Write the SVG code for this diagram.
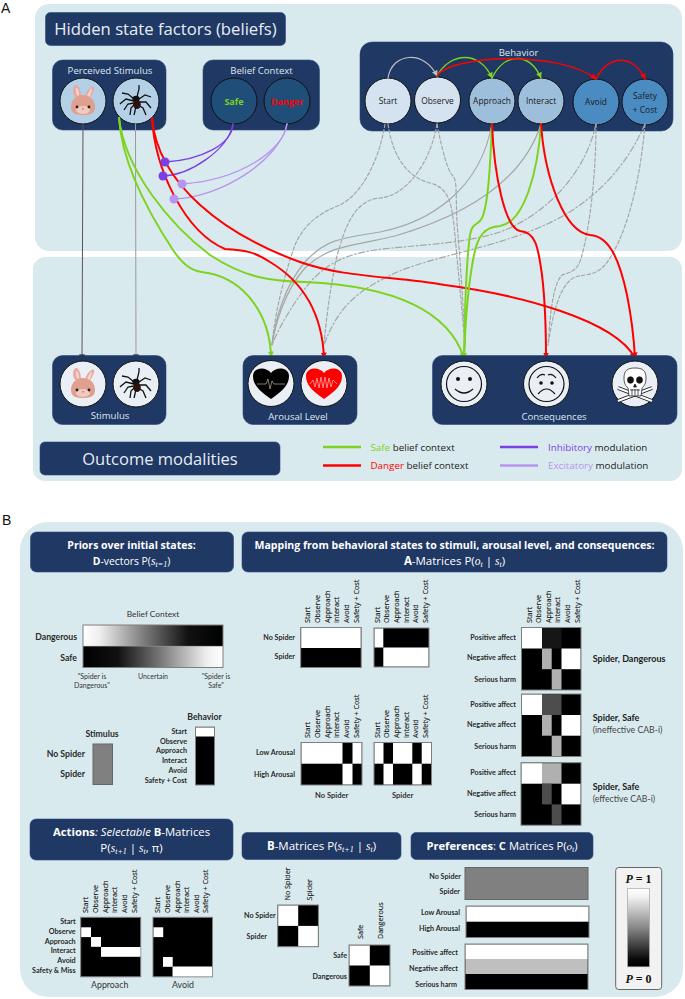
<svg xmlns="http://www.w3.org/2000/svg" width="685" height="999" viewBox="0 0 685 999">
<style>
text{font-family:"Open Sans","Liberation Sans",sans-serif;fill:#222}
.panel{fill:#d9eaee}
.dark{fill:#1f3864;stroke:#2d4a7c;stroke-width:.6}
.t{fill:#e8edf4}
.cap{fill:#dfe6ef;font-size:9.600px;text-anchor:middle}
.ncirc{stroke:#111;stroke-width:1}
.bt{font-size:8.400px;text-anchor:middle;fill:#1a1a1a}
.lab{font-family:Lato,"Liberation Sans",sans-serif;font-size:7.200px;font-weight:700;fill:#2a2a2a;text-anchor:end}
.lab8{font-family:Lato,"Liberation Sans",sans-serif;font-size:8.700px;font-weight:700;fill:#2a2a2a;text-anchor:end}
.col{font-family:Lato,"Liberation Sans",sans-serif;font-size:7.200px;font-weight:400;fill:#1a1a1a;stroke:#1a1a1a;stroke-width:.12}
.lab2{font-family:Lato,"Liberation Sans",sans-serif;font-size:7.600px;fill:#333;text-anchor:middle}
.lat{font-family:Lato,"Liberation Sans",sans-serif;font-size:9px;font-weight:700}
.lat2{font-family:Lato,"Liberation Sans",sans-serif;font-size:8.700px;fill:#444}
.leg{font-size:9.800px}
.head{fill:#fff;font-size:11.500px;text-anchor:middle}
.b{font-weight:700}
.m{font-style:italic;font-family:"Liberation Serif",serif}
.sub{font-size:8px;font-style:italic;font-family:"Liberation Serif",serif}
.k{fill:#000;stroke:#7f7f7f;stroke-width:1}
.w{fill:#fff}
.g1{fill:#b0b0b0}.g2{fill:#4d4d4d}.g3{fill:#161616}
.c{fill:none;stroke-linecap:round}
.gs{stroke:#a6a6a6;stroke-width:1.200}
.gd{stroke:#a6a6a6;stroke-width:1.200;stroke-dasharray:3.500 2.200}
.gdd{stroke:#a6a6a6;stroke-width:1.200;stroke-dasharray:6 2.500 1.500 2.500}
.gr{stroke:#7ed321;stroke-width:2}
.rd{stroke:#ff0000;stroke-width:2}
.pu{stroke:#7b3fe4;stroke-width:1.300}
.lp{stroke:#b794f0;stroke-width:1.300}
</style>
<defs>
<marker id="ag" markerUnits="userSpaceOnUse" markerWidth="7" markerHeight="7" refX="5.500" refY="3" orient="auto"><path d="M0 0L6 3L0 6z" fill="#7ed321"/></marker>
<marker id="ar" markerUnits="userSpaceOnUse" markerWidth="7" markerHeight="7" refX="5.500" refY="3" orient="auto"><path d="M0 0L6 3L0 6z" fill="#ff0000"/></marker>
<marker id="ak" markerUnits="userSpaceOnUse" markerWidth="7" markerHeight="7" refX="5.500" refY="3" orient="auto"><path d="M0 0L6 3L0 6z" fill="#111"/></marker>
<marker id="aw" markerUnits="userSpaceOnUse" markerWidth="7" markerHeight="7" refX="5.500" refY="3" orient="auto"><path d="M0 0L6 3L0 6z" fill="#bfbfbf"/></marker>
<linearGradient id="wb"><stop offset="0" stop-color="#fff"/><stop offset=".12" stop-color="#eee"/><stop offset=".45" stop-color="#777"/><stop offset=".75" stop-color="#111"/><stop offset="1" stop-color="#000"/></linearGradient>
<linearGradient id="bw"><stop offset="0" stop-color="#000"/><stop offset=".25" stop-color="#111"/><stop offset=".55" stop-color="#777"/><stop offset=".88" stop-color="#eee"/><stop offset="1" stop-color="#fff"/></linearGradient>
<linearGradient id="vb" x1="0" y1="0" x2="0" y2="1"><stop offset="0" stop-color="#fff"/><stop offset=".1" stop-color="#f4f4f4"/><stop offset=".5" stop-color="#888"/><stop offset=".9" stop-color="#0a0a0a"/><stop offset="1" stop-color="#000"/></linearGradient>
<symbol id="rabbit" viewBox="-23 -23 46 46" overflow="visible">
<path d="M-8 -4C-12 -10 -9 -17 -6 -16C-3 -14 -2 -8 -2 -5z" fill="#e8a9a0"/>
<path d="M2 -5C4 -11 9 -16 11 -14C12 -11 8 -5 6 -2z" fill="#e8a9a0"/>
<path d="M-6 -6C-8 -11 -7 -14 -6 -13C-4 -11 -4 -8 -4 -5z" fill="#f6d5d0"/>
<path d="M4 -5C6 -9 8 -13 9 -12C9 -10 7 -5 6 -3z" fill="#f6d5d0"/>
<path d="M-12 6C-12 -2 -6 -6 0 -6C6 -6 12 -2 12 6C12 12 8 14 0 14C-8 14 -12 12 -12 6z" fill="#dfa090"/>
<ellipse cx="0" cy="9" rx="7" ry="4" fill="#f2c9bf"/>
<circle cx="-6" cy="6" r="1.400" fill="#222"/><circle cx="6" cy="6" r="1.400" fill="#222"/>
<path d="M-1 7.500h2l-1 1.200z" fill="#a33"/>
</symbol>
<symbol id="spider" viewBox="-23 -23 46 46" overflow="visible">
<g fill="none" stroke="#111" stroke-width="1.300">
<path d="M-2 -2L-8 -7L-14 -8"/><path d="M-2 0L-10 -2L-15 2L-16 3"/><path d="M-2 2L-8 3L-12 9"/><path d="M-1 3L-5 7L-6 14"/>
<path d="M1 -4L3 -12L3 -16"/><path d="M3 -2L9 -6L15 -4"/><path d="M3 1L10 1L15 7"/><path d="M2 4L7 7L10 14"/><path d="M0 4L-1 10L-2 14"/>
</g>
<ellipse cx="0" cy="-2" rx="3.600" ry="3.200" fill="#111"/><ellipse cx="1" cy="3.500" rx="3.800" ry="4.600" fill="#2a1210"/>
</symbol>
</defs>

<text x="1" y="13" style="font-size:14px;fill:#111;font-family:'Liberation Sans',sans-serif">A</text>
<text x="2" y="525" style="font-size:14px;fill:#111;font-family:'Liberation Sans',sans-serif">B</text>

<rect class="panel" x="35" y="4" width="647" height="247" rx="14"/>
<rect class="panel" x="33" y="257" width="649" height="224" rx="12"/>

<g id="title-hidden"><rect class="dark" x="45.500" y="12.500" width="240" height="33" rx="5"/><text class="t" x="165.500" y="35" text-anchor="middle" style="font-size:16.700px">Hidden state factors (beliefs)</text></g>

<g id="perceived-stimulus">
<rect class="dark" x="52.500" y="60" width="113.500" height="70" rx="10"/>
<text class="cap" x="110" y="74">Perceived Stimulus</text>
<circle class="ncirc" cx="83" cy="101" r="23" fill="#b4d0e7"/><use href="#rabbit" x="60" y="78" width="46" height="46"/>
<circle class="ncirc" cx="136" cy="101" r="23" fill="#b4d0e7"/><use href="#spider" x="113" y="78" width="46" height="46"/>
</g>
<g id="belief-context">
<rect class="dark" x="203" y="60" width="116.500" height="70" rx="10"/>
<text class="cap" x="261.500" y="74">Belief Context</text>
<circle class="ncirc" cx="234" cy="101" r="23" fill="#1f4e79"/><text x="234" y="105" text-anchor="middle" style="fill:#7ed321;font-size:9px;font-weight:700">Safe</text>
<circle class="ncirc" cx="287" cy="101" r="23" fill="#1f4e79"/><text x="287" y="105" text-anchor="middle" style="fill:#ff0000;font-size:9px;font-weight:700">Danger</text>
</g>
<g id="behavior">
<rect class="dark" x="360" y="42" width="313" height="89" rx="12"/>
<text class="cap" x="518.500" y="56">Behavior</text>
<g class="ncirc">
<circle cx="388" cy="101" r="23" fill="#d5e3f1"/><circle cx="437.500" cy="100" r="23" fill="#d5e3f1"/>
<circle cx="492" cy="101" r="23" fill="#9dbfdc"/><circle cx="541" cy="101" r="23" fill="#9dbfdc"/>
<circle cx="596" cy="102" r="23" fill="#4a8bc2"/><circle cx="645" cy="102" r="23" fill="#4a8bc2"/>
</g>
<text class="bt" x="388" y="104">Start</text><text class="bt" x="437.500" y="104">Observe</text><text class="bt" x="492" y="104">Approach</text><text class="bt" x="541" y="104">Interact</text><text class="bt" x="596" y="105">Avoid</text><text class="bt" x="645" y="99">Safety</text><text class="bt" x="645" y="113">+ Cost</text>
</g>

<g id="connectors">
<g class="c">
<path class="gd" d="M385 124C380 155 365 192 340 205C322 212 305 222 295 245C286 270 275 310 272 345"/>
<path class="gd" d="M388 124C393 160 410 178 430 183C450 188 452 205 455 235C458 270 463 320 465 345"/>
<path class="gd" d="M437 124C430 165 405 196 380 198C355 200 345 225 336 260C330 290 326 320 324 345"/>
<path class="gd" d="M437 124C442 150 448 172 453 176C458 180 455 205 458 235C461 270 464 320 465 345"/>
<path class="gs" d="M492 124C480 190 430 222 380 232C340 238 325 240 305 262C285 285 275 320 272 345"/>
<path class="gs" d="M541 124C520 190 450 220 395 236C355 246 330 244 305 268C285 290 275 325 272 345"/>
<path class="gdd" d="M596 124C585 175 545 215 500 232C460 245 410 245 375 250C345 255 330 262 312 280C295 300 280 325 272 345"/>
<path class="gd" d="M596 124C596 175 590 225 582 255C578 272 570 272 562 275C552 285 550 320 548 345"/>
<path class="gdd" d="M645 124C625 170 590 205 545 225C490 250 420 258 385 278C350 295 335 315 324 345"/>
<path class="gd" d="M645 124C640 185 625 240 605 265C595 276 585 274 575 277C558 285 552 320 548 345"/>
</g>
<g class="c">
<path d="M83 124L82 360" stroke="#555" stroke-width="1" marker-end="url(#ak)"/>
<path d="M135.500 124L136 360" stroke="#999" stroke-width="1" marker-end="url(#ak)"/>
<path class="pu" d="M233 124C232 145 200 160 165 162"/>
<path class="pu" d="M233 124C228 150 190 175 163 176"/>
<path class="lp" d="M287 124C284 150 240 180 182 184"/>
<path class="lp" d="M287 124C280 160 220 198 174 199"/>
<path class="gr" d="M119 118C122 165 150 215 173 250C185 268 195 272 208 273C245 280 270 315 271 357" marker-end="url(#ag)"/>
<path class="gr" d="M119 118C125 170 170 225 210 255C245 278 270 281 305 282C370 285 445 300 464 358" marker-end="url(#ag)"/>
<path class="rd" d="M152 118C155 170 185 232 225 249C245 250 255 252 270 262C300 280 322 310 324 358" marker-end="url(#ar)"/>
<path class="rd" d="M152 118C158 185 225 235 300 262C345 278 395 276 445 285C520 295 615 320 635 358" marker-end="url(#ar)"/>
<path class="gr" d="M492 124C490 170 488 205 482 218C478 226 472 222 470 235C465 270 465 320 464 358" marker-end="url(#ag)"/>
<path class="gr" d="M541 124C538 170 525 222 500 226C485 227 478 235 474 255C468 285 465 330 464 358" marker-end="url(#ag)"/>
<path class="rd" d="M492 124C494 175 505 228 520 231C535 232 538 245 542 275C545 300 546 330 546 358" marker-end="url(#ar)"/>
<path class="rd" d="M541 124C545 180 565 232 590 235C610 236 620 262 627 295C632 320 634 340 635 358" marker-end="url(#ar)"/>
<path d="M388 78C392 52 425 50 437 76" stroke="#bfbfbf" stroke-width="1.200" marker-end="url(#aw)"/>
<path class="gr" style="stroke-width:1.300" d="M437 76C450 52 480 50 492 78" marker-end="url(#ag)"/>
<path class="gr" style="stroke-width:1.300" d="M492 78C505 52 530 52 541 78" marker-end="url(#ag)"/>
<path class="rd" style="stroke-width:1.400" d="M437 76C450 55 560 50 596 79" marker-end="url(#ar)"/>
<path class="rd" style="stroke-width:1.400" d="M596 79C608 54 634 54 645 79" marker-end="url(#ar)"/>
</g>
<circle cx="165" cy="162" r="4.500" fill="#7b3fe4"/><circle cx="163" cy="176" r="4.500" fill="#7b3fe4"/>
<circle cx="182" cy="184" r="4.500" fill="#b794f0"/><circle cx="174" cy="199" r="4.500" fill="#b794f0"/>
</g>

<g id="stimulus-outcomes">
<rect class="dark" x="52.500" y="355.500" width="113.500" height="69" rx="10"/>
<circle class="ncirc" cx="83" cy="384" r="23" fill="#e9eff5"/><use href="#rabbit" x="60" y="361" width="46" height="46"/>
<circle class="ncirc" cx="136" cy="384" r="23" fill="#e9eff5"/><use href="#spider" x="113" y="361" width="46" height="46"/>
<text class="cap" x="110" y="419">Stimulus</text>
</g>
<g id="arousal-level">
<rect class="dark" x="243" y="355.500" width="114" height="69" rx="10"/>
<circle class="ncirc" cx="271" cy="383.500" r="23" fill="#e9eff5"/>
<path d="M271 399C258 390 253 384 253 376C253 367 266 366 271 373C276 366 289 367 289 376C289 384 284 390 271 399z" fill="#000"/>
<path d="M257 384H266L268 379L270 389L272 381L274 384H285" fill="none" stroke="#ccc" stroke-width=".6"/>
<circle class="ncirc" cx="324" cy="383.500" r="23" fill="#e9eff5"/>
<path d="M324 399C311 390 306 384 306 376C306 367 319 366 324 373C329 366 342 367 342 376C342 384 337 390 324 399z" fill="#ff0000"/>
<path d="M310 384L313 380L315 387L317 378L319 388L321 377L323 388L325 377L327 388L329 378L331 387L333 380L337 384" fill="none" stroke="#fdd" stroke-width=".6"/>
<text class="cap" x="298" y="420">Arousal Level</text>
</g>
<g id="consequences">
<rect class="dark" x="432.500" y="355.500" width="244.500" height="69" rx="10"/>
<circle class="ncirc" cx="464" cy="384" r="23" fill="#e9eff5"/>
<g fill="none" stroke="#111" stroke-width="1.200"><circle cx="464" cy="384" r="17.500"/><path d="M455 389Q464 397 473 389"/></g>
<circle cx="458" cy="379" r="2" fill="#111"/><circle cx="470" cy="379" r="2" fill="#111"/>
<circle class="ncirc" cx="546.500" cy="384" r="23" fill="#e9eff5"/>
<g fill="none" stroke="#111" stroke-width="1.200"><circle cx="546.500" cy="384" r="17.500"/><path d="M538 394Q546.500 384 555 394"/><path d="M537 378Q541 373 545 375M548 375Q552 373 556 378"/></g>
<circle cx="541" cy="383" r="1.800" fill="#111"/><circle cx="552" cy="383" r="1.800" fill="#111"/>
<circle class="ncirc" cx="635" cy="384" r="23" fill="#e9eff5"/>
<g stroke="#111" stroke-width=".7">
<path d="M618 388L652 401M652 388L618 401" stroke="#111" stroke-width="3.600"/><path d="M618 388L652 401M652 388L618 401" stroke="#fff" stroke-width="2.400"/>
<path d="M624 378C624 370 628 368 635 368C642 368 646 370 646 378C646 384 644 386 642 388L641 396H629L628 388C626 386 624 384 624 378z" fill="#fff"/>
<ellipse cx="630.500" cy="380" rx="3" ry="3.300" fill="#111"/><ellipse cx="639.500" cy="380" rx="3" ry="3.300" fill="#111"/>
<path d="M635 384l-1.500 3h3z" fill="#111"/><path d="M630 390H640M632 389V396M635 389V396M638 389V396"/>
</g>
<text class="cap" x="554" y="420">Consequences</text>
</g>

<g id="title-outcome"><rect class="dark" x="40" y="442" width="240" height="33" rx="5"/><text class="t" x="160" y="465" text-anchor="middle" style="font-size:16.500px">Outcome modalities</text></g>

<g id="legend">
<path d="M323 447H361" stroke="#7ed321" stroke-width="2.400"/><path d="M323 465.500H361" stroke="#ff0000" stroke-width="2.400"/>
<path d="M500 447H538" stroke="#7b3fe4" stroke-width="2.400"/><path d="M500 465.500H538" stroke="#b794f0" stroke-width="2.400"/>
<text class="leg" x="370.500" y="450.500"><tspan style="fill:#7ed321">Safe</tspan> belief context</text>
<text class="leg" x="370.500" y="469"><tspan style="fill:#ff0000">Danger</tspan> belief context</text>
<text class="leg" x="548" y="450.500"><tspan style="fill:#7b3fe4">Inhibitory</tspan> modulation</text>
<text class="leg" x="548" y="469"><tspan style="fill:#b794f0">Excitatory</tspan> modulation</text>
</g>

<rect class="panel" x="20" y="522" width="663" height="475" rx="28"/>

<g id="head-priors"><rect class="dark" x="30.500" y="532" width="203" height="40" rx="6"/>
<text class="head b" x="131.500" y="549" style="font-size:10.500px">Priors over initial states:</text>
<text class="head" x="131.500" y="565" style="font-size:10.400px"><tspan class="b">D</tspan>-vectors P(<tspan class="m" style="font-size:12px">s</tspan><tspan class="sub" dy="2">t=1</tspan><tspan dy="-2">)</tspan></text></g>
<g id="head-mapping"><rect class="dark" x="242" y="532" width="425" height="40" rx="6"/>
<text class="head b" x="454.500" y="549" style="font-size:10.550px">Mapping from behavioral states to stimuli, arousal level, and consequences:</text>
<text class="head" x="454.500" y="565"><tspan class="b">A</tspan>-Matrices P(<tspan class="m">o</tspan><tspan class="sub" dy="2">t</tspan><tspan dy="-2"> | </tspan><tspan class="m">s</tspan><tspan class="sub" dy="2">t</tspan><tspan dy="-2">)</tspan></text></g>
<g id="head-actions"><rect class="dark" x="30" y="819" width="203" height="41" rx="6"/>
<text class="head" x="131.500" y="836" style="font-size:11.300px"><tspan class="b">Actions</tspan><tspan font-style="italic">: Selectable </tspan><tspan class="b">B</tspan>-Matrices</text>
<text class="head" x="131.500" y="852">P(<tspan class="m">s</tspan><tspan class="sub" dy="2">t+1</tspan><tspan dy="-2"> | </tspan><tspan class="m">s</tspan><tspan class="sub" dy="2">t</tspan><tspan dy="-2">, π)</tspan></text></g>
<g id="head-b"><rect class="dark" x="242" y="832.500" width="159" height="27" rx="5"/>
<text class="head" x="321.500" y="850"><tspan class="b">B</tspan>-Matrices P(<tspan class="m">s</tspan><tspan class="sub" dy="2">t+1</tspan><tspan dy="-2"> | </tspan><tspan class="m">s</tspan><tspan class="sub" dy="2">t</tspan><tspan dy="-2">)</tspan></text></g>
<g id="head-c"><rect class="dark" x="411" y="832.500" width="182" height="27" rx="5"/>
<text class="head" x="502" y="850" style="font-size:11.200px"><tspan class="b">Preferences</tspan>: <tspan class="b">C</tspan> Matrices P(<tspan class="m">o</tspan><tspan class="sub" dy="2">t</tspan><tspan dy="-2">)</tspan></text></g>

<g id="d-vectors">
<text class="lab2" x="153" y="617" style="font-size:8.400px">Belief Context</text>
<rect x="83" y="625" width="140" height="21" fill="url(#wb)"/><rect x="83" y="646" width="140" height="21.500" fill="url(#bw)"/>
<rect x="83" y="625" width="140" height="42.500" fill="none" stroke="#7f7f7f" stroke-width="1"/>
<path d="M83 646.300H223" stroke="#999" stroke-width=".6"/>
<text class="lab8" x="77" y="639.500">Dangerous</text><text class="lab8" x="77" y="661">Safe</text>
<text class="lab2" x="92" y="679" style="font-size:7px">"Spider is</text><text class="lab2" x="92" y="688" style="font-size:7px">Dangerous"</text>
<text class="lab2" x="153" y="679" style="font-size:7px">Uncertain</text>
<text class="lab2" x="216" y="679" style="font-size:7px">"Spider is</text><text class="lab2" x="216" y="688" style="font-size:7px">Safe"</text>
<text class="lab8" x="102" y="737" style="text-anchor:middle">Stimulus</text>
<rect x="93" y="744" width="19.500" height="40.500" fill="#808080" stroke="#666"/>
<text class="lab8" x="85" y="757">No Spider</text><text class="lab8" x="85" y="777">Spider</text>
<text class="lab8" x="204.500" y="719.500" style="text-anchor:middle">Behavior</text>
<rect class="k" x="195.500" y="727" width="19" height="58"/><rect class="w" x="196" y="727.500" width="18" height="9"/>
<text class="lab" x="187" y="733.500">Start</text><text class="lab" x="187" y="743.500">Observe</text><text class="lab" x="187" y="753">Approach</text><text class="lab" x="187" y="762.500">Interact</text><text class="lab" x="187" y="772.500">Avoid</text><text class="lab" x="187" y="782.500">Safety + Cost</text>
</g>

<g id="a-matrices-stimulus">
<g class="col">
<text transform="translate(310 623) rotate(-90)">Start</text><text transform="translate(319.500 623) rotate(-90)">Observe</text><text transform="translate(329.500 623) rotate(-90)">Approach</text><text transform="translate(339 623) rotate(-90)">Interact</text><text transform="translate(349 623) rotate(-90)">Avoid</text><text transform="translate(359 623) rotate(-90)">Safety + Cost</text>
<text transform="translate(379.500 623) rotate(-90)">Start</text><text transform="translate(389 623) rotate(-90)">Observe</text><text transform="translate(399 623) rotate(-90)">Approach</text><text transform="translate(408.500 623) rotate(-90)">Interact</text><text transform="translate(418 623) rotate(-90)">Avoid</text><text transform="translate(428 623) rotate(-90)">Safety + Cost</text>
</g>
<text class="lab" x="295" y="640">No Spider</text><text class="lab" x="295" y="659">Spider</text>
<rect class="k" x="300.700" y="627.500" width="60.500" height="40"/><rect class="w" x="301.200" y="628" width="59.500" height="20"/>
<rect class="k" x="374" y="628" width="55" height="39"/><rect class="w" x="374.500" y="628.500" width="8.800" height="19"/><rect class="w" x="383.300" y="647.500" width="45.200" height="19"/>
</g>
<g id="a-matrices-arousal">
<g class="col">
<text transform="translate(310 738) rotate(-90)">Start</text><text transform="translate(319.500 738) rotate(-90)">Observe</text><text transform="translate(329.500 738) rotate(-90)">Approach</text><text transform="translate(339 738) rotate(-90)">Interact</text><text transform="translate(349 738) rotate(-90)">Avoid</text><text transform="translate(359 738) rotate(-90)">Safety + Cost</text>
<text transform="translate(379.500 738) rotate(-90)">Start</text><text transform="translate(389 738) rotate(-90)">Observe</text><text transform="translate(399 738) rotate(-90)">Approach</text><text transform="translate(408.500 738) rotate(-90)">Interact</text><text transform="translate(418 738) rotate(-90)">Avoid</text><text transform="translate(428 738) rotate(-90)">Safety + Cost</text>
</g>
<text class="lab" x="295" y="755">Low Arousal</text><text class="lab" x="295" y="776.500">High Arousal</text>
<rect class="k" x="301" y="742.500" width="61" height="42.500"/>
<rect class="w" x="301.500" y="743" width="41" height="20.700"/><rect class="w" x="352.500" y="743" width="9" height="20.700"/><rect class="w" x="342.500" y="763.700" width="10" height="20.800"/>
<rect class="k" x="374" y="742.500" width="57.500" height="42.500"/>
<rect class="w" x="374.500" y="743" width="9" height="20.700"/><rect class="w" x="393" y="743" width="19.300" height="20.700"/><rect class="w" x="421.700" y="743" width="9.300" height="20.700"/>
<rect class="w" x="383.500" y="763.700" width="9.500" height="20.800"/><rect class="w" x="412.300" y="763.700" width="9.400" height="20.800"/>
<text class="lab2" x="331.700" y="797.500" style="font-weight:700">No Spider</text><text class="lab2" x="402.700" y="797.500" style="font-weight:700">Spider</text>
</g>
<g id="a-matrices-consequences">
<g class="col">
<text transform="translate(531.500 623) rotate(-90)">Start</text><text transform="translate(541 623) rotate(-90)">Observe</text><text transform="translate(551 623) rotate(-90)">Approach</text><text transform="translate(560 623) rotate(-90)">Interact</text><text transform="translate(570 623) rotate(-90)">Avoid</text><text transform="translate(580 623) rotate(-90)">Safety + Cost</text>
</g>
<text class="lab" x="516" y="639.500">Positive affect</text><text class="lab" x="516" y="660">Negative affect</text><text class="lab" x="516" y="681.500">Serious harm</text>
<rect class="k" x="521.500" y="627.500" width="59.500" height="62.500"/>
<rect class="w" x="522" y="628" width="20" height="20.500"/><rect class="g3" x="542" y="628" width="19.500" height="20.500"/>
<rect class="g1" x="542" y="648.500" width="9.700" height="20.700"/><rect class="w" x="561.500" y="648.500" width="19" height="20.700"/>
<rect class="g1" x="551.700" y="669.200" width="9.800" height="20.300"/>
<text class="lab" x="516" y="706.500">Positive affect</text><text class="lab" x="516" y="727">Negative affect</text><text class="lab" x="516" y="748.500">Serious harm</text>
<rect class="k" x="521.500" y="694" width="59.500" height="62.500"/>
<rect class="w" x="522" y="694.500" width="20" height="20.500"/><rect class="g2" x="542" y="694.500" width="19.500" height="20.500"/>
<rect class="g1" x="542" y="715" width="9.700" height="20.700"/><rect class="w" x="561.500" y="715" width="19" height="20.700"/>
<rect class="g1" x="551.700" y="735.700" width="9.800" height="20.300"/>
<text class="lab" x="516" y="775">Positive affect</text><text class="lab" x="516" y="795.500">Negative affect</text><text class="lab" x="516" y="817">Serious harm</text>
<rect class="k" x="521" y="762.700" width="60" height="62.500"/>
<rect class="w" x="521.500" y="763.200" width="20.500" height="20.500"/><rect class="g1" x="542" y="763.200" width="19.500" height="20.500"/>
<rect class="g2" x="542" y="783.700" width="9.700" height="20.700"/><rect class="w" x="561.500" y="783.700" width="19" height="20.700"/>
<rect class="g2" x="551.700" y="804.400" width="9.800" height="20.300"/>
<text class="lat" x="592.700" y="661.500">Spider, Dangerous</text>
<text class="lat" x="592.700" y="721">Spider, Safe</text>
<text class="lat2" x="592.700" y="732.500">(ineffective CAB-i)</text>
<text class="lat" x="592.700" y="790">Spider, Safe</text>
<text class="lat2" x="592.700" y="801.500">(effective CAB-i)</text>
</g>

<g id="action-matrices">
<g class="col">
<text transform="translate(87.500 913) rotate(-90)">Start</text><text transform="translate(97.500 913) rotate(-90)">Observe</text><text transform="translate(107.500 913) rotate(-90)">Approach</text><text transform="translate(116.500 913) rotate(-90)">Interact</text><text transform="translate(126.500 913) rotate(-90)">Avoid</text><text transform="translate(136.500 913) rotate(-90)">Safety + Cost</text>
<text transform="translate(160 913) rotate(-90)">Start</text><text transform="translate(170 913) rotate(-90)">Observe</text><text transform="translate(179.500 913) rotate(-90)">Approach</text><text transform="translate(189 913) rotate(-90)">Interact</text><text transform="translate(199 913) rotate(-90)">Avoid</text><text transform="translate(208 913) rotate(-90)">Safety + Cost</text>
</g>
<text class="lab" x="75.700" y="924">Start</text><text class="lab" x="75.700" y="934">Observe</text><text class="lab" x="75.700" y="943.500">Approach</text><text class="lab" x="75.700" y="953">Interact</text><text class="lab" x="75.700" y="963">Avoid</text><text class="lab" x="75.700" y="972.500">Safety &amp; Miss</text>
<rect class="k" x="80.700" y="917.300" width="60" height="59.500"/>
<rect class="w" x="81.200" y="927.300" width="9.800" height="9.800"/><rect class="w" x="91" y="937" width="10" height="9.800"/><rect class="w" x="101" y="947" width="39.500" height="9.800"/>
<rect class="k" x="153" y="917.300" width="59.500" height="59.500"/>
<rect class="w" x="153.500" y="927.300" width="9.700" height="9.800"/><rect class="w" x="163" y="957" width="9.700" height="9.800"/><rect class="w" x="172.500" y="966.500" width="39.700" height="10"/>
<text class="lab2" x="109.700" y="988" style="font-size:8.800px">Approach</text><text class="lab2" x="183" y="988" style="font-size:8.800px">Avoid</text>
</g>

<g id="b-matrices">
<g class="col">
<text transform="translate(290 900.500) rotate(-90)">No Spider</text><text transform="translate(311.500 900.500) rotate(-90)">Spider</text>
<text transform="translate(362.500 939) rotate(-90)">Safe</text><text transform="translate(383.200 939) rotate(-90)">Dangerous</text>
</g>
<text class="lab" x="275.700" y="917.500">No Spider</text><text class="lab" x="267" y="939">Spider</text>
<rect class="k" x="277.700" y="905" width="40.700" height="41.700"/><rect class="w" x="278.200" y="905.500" width="20" height="20.400"/><rect class="w" x="298.200" y="925.900" width="19.700" height="20.300"/>
<text class="lab" x="347" y="957.500">Safe</text><text class="lab" x="347" y="979">Dangerous</text>
<rect class="k" x="349" y="945" width="41" height="41"/><rect class="w" x="349.500" y="945.500" width="20.300" height="20"/><rect class="w" x="369.800" y="965.500" width="19.700" height="20"/>
</g>

<g id="c-matrices">
<text class="lab" x="461" y="879">No Spider</text><text class="lab" x="460" y="893.500">Spider</text>
<rect x="465" y="867.500" width="123" height="32" fill="#808080" stroke="#666"/>
<text class="lab" x="460" y="915">Low Arousal</text><text class="lab" x="460" y="931">High Arousal</text>
<rect class="k" x="466" y="906" width="123" height="31.500"/><rect class="w" x="466.500" y="906.500" width="122" height="15.200"/>
<text class="lab" x="458" y="954.500">Positive affect</text><text class="lab" x="458" y="971">Negative affect</text><text class="lab" x="457" y="987">Serious harm</text>
<rect class="k" x="465" y="944" width="123" height="45.500"/><rect class="w" x="465.500" y="944.500" width="122" height="14.700"/><rect x="465.500" y="959" width="122" height="15" fill="#bfbfbf"/>
</g>

<g id="colorbar">
<rect x="615.700" y="867.500" width="46" height="122" rx="3" fill="#f2f2f2" stroke="#666" stroke-width="1"/>
<rect x="627.700" y="888.500" width="21.600" height="78.300" fill="url(#vb)" stroke="#999" stroke-width=".6"/>
<text x="638.500" y="883" text-anchor="middle" style="font-family:'Liberation Serif',serif;font-size:12px;font-weight:700;fill:#111"><tspan font-style="italic">P</tspan> = 1</text>
<text x="638.500" y="982.500" text-anchor="middle" style="font-family:'Liberation Serif',serif;font-size:12px;font-weight:700;fill:#111"><tspan font-style="italic">P</tspan> = 0</text>
</g>
</svg>
